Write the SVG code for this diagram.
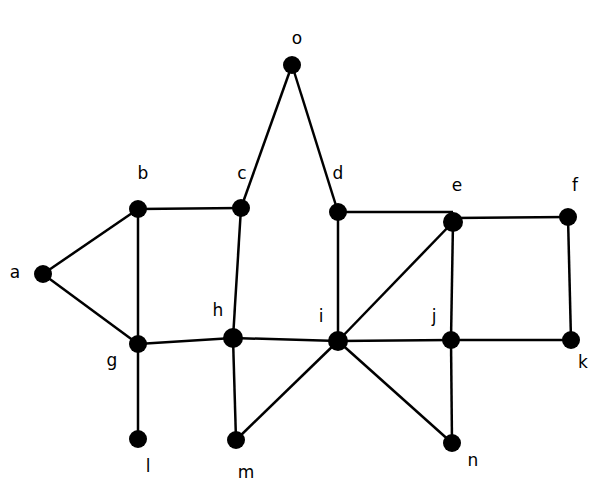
<svg xmlns="http://www.w3.org/2000/svg" width="614" height="489" viewBox="0 0 614 489">
<style>
.n{fill:#000}
.e line{stroke:#000;stroke-width:2.5}
text{font-family:"DejaVu Sans",sans-serif;font-size:17px;fill:#000;text-anchor:middle}
</style>
<rect width="614" height="489" fill="#fff"/>
<g class="e" id="connectors">
<line x1="43" y1="274" x2="138" y2="209"/>
<line x1="43" y1="274" x2="138" y2="344"/>
<line x1="138" y1="209" x2="241" y2="208"/>
<line x1="138" y1="209" x2="138" y2="344"/>
<line x1="241" y1="208" x2="292" y2="65"/>
<line x1="292" y1="65" x2="338" y2="212"/>
<line x1="241" y1="208" x2="233" y2="338"/>
<line x1="338" y1="212" x2="453" y2="212"/>
<line x1="338" y1="212" x2="338" y2="341"/>
<line x1="453" y1="218" x2="568" y2="217"/>
<line x1="453" y1="222" x2="338" y2="341"/>
<line x1="453" y1="222" x2="451" y2="340"/>
<line x1="568" y1="217" x2="571" y2="340"/>
<line x1="138" y1="344" x2="233" y2="338"/>
<line x1="233" y1="338" x2="338" y2="341"/>
<line x1="338" y1="341" x2="451" y2="340"/>
<line x1="451" y1="340" x2="571" y2="340"/>
<line x1="138" y1="344" x2="138" y2="439"/>
<line x1="233" y1="338" x2="236" y2="440"/>
<line x1="338" y1="341" x2="236" y2="440"/>
<line x1="338" y1="341" x2="452" y2="443"/>
<line x1="451" y1="340" x2="452" y2="443"/>
</g>
<g id="o"><circle class="n" cx="292" cy="65" r="9"/><text x="297" y="44">o</text></g>
<g id="b"><circle class="n" cx="138" cy="209" r="9"/><text x="143" y="179">b</text></g>
<g id="c"><circle class="n" cx="241" cy="208" r="9"/><text x="242" y="179">c</text></g>
<g id="d"><circle class="n" cx="338" cy="212" r="9"/><text x="338" y="179">d</text></g>
<g id="e"><circle class="n" cx="453" cy="222" r="10"/><text x="457" y="191">e</text></g>
<g id="f"><circle class="n" cx="568" cy="217" r="9"/><text x="575" y="191">f</text></g>
<g id="a"><circle class="n" cx="43" cy="274" r="9"/><text x="15" y="278">a</text></g>
<g id="g"><circle class="n" cx="138" cy="344" r="9"/><text x="112" y="366">g</text></g>
<g id="h"><circle class="n" cx="233" cy="338" r="10"/><text x="218" y="316">h</text></g>
<g id="i"><circle class="n" cx="338" cy="341" r="10"/><text x="321" y="322">i</text></g>
<g id="j"><circle class="n" cx="451" cy="340" r="9"/><text x="434" y="322">j</text></g>
<g id="k"><circle class="n" cx="571" cy="340" r="9"/><text x="583" y="368">k</text></g>
<g id="l"><circle class="n" cx="138" cy="439" r="9"/><text x="148" y="472">l</text></g>
<g id="m"><circle class="n" cx="236" cy="440" r="9"/><text x="246" y="478">m</text></g>
<g id="n"><circle class="n" cx="452" cy="443" r="9"/><text x="473" y="466">n</text></g>
</svg>
